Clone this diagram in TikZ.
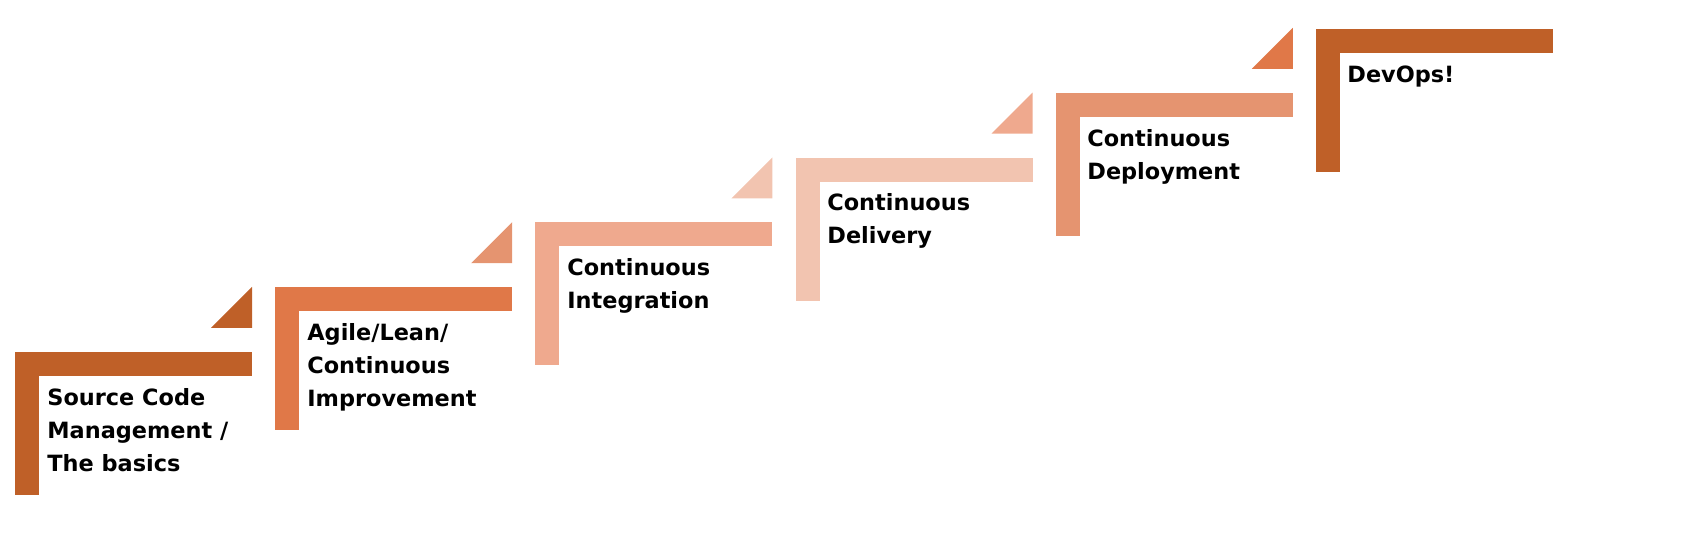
\documentclass[tikz,border=0pt]{standalone}
\usepackage{fontspec}
\setmainfont{DejaVu Sans}
\definecolor{stepA}{HTML}{BF6028}
\definecolor{stepB}{HTML}{E07848}
\definecolor{stepC}{HTML}{EFA98E}
\definecolor{stepD}{HTML}{F2C4B0}
\definecolor{stepE}{HTML}{E59470}
\definecolor{stepF}{HTML}{BF6028}
\tikzset{
  steplabel/.style={anchor=north west, align=left, inner sep=0pt,
    font=\bfseries\fontsize{11.2}{16.5}\selectfont}
}
\begin{document}
\begin{tikzpicture}[x=0.5pt,y=-0.5pt]
\useasboundingbox (0,0) rectangle (1704,550);
% the stairs: bar, riser and corner triangle
\foreach \i/\c/\t in {0/stepA/stepA,1/stepB/stepE,2/stepC/stepD,3/stepD/stepC,4/stepE/stepB} {
  \pgfmathsetmacro{\x}{15+260.2*\i}
  \pgfmathsetmacro{\y}{352-64.8*\i}
  \fill [\c] (\x,\y) rectangle ++(237,24);
  \fill [\c] (\x,\y) rectangle ++(24,143);
  \fill [\t] (\x+237,\y-65) -- (\x+237,\y-24) -- (\x+196,\y-24) -- cycle;
}
\fill [stepF] (1316,29) rectangle ++(237,24);
\fill [stepF] (1316,29) rectangle ++(24,143);
% labels
\node [steplabel] (scm) at (47,388) {Source Code\\Management /\\The basics};
\node [steplabel] (agile) at (307,323) {Agile/Lean/\\Continuous\\Improvement};
\node [steplabel] (ci) at (567,258) {Continuous\\Integration};
\node [steplabel] (cdel) at (827,193) {Continuous\\Delivery};
\node [steplabel] (cdep) at (1087,129) {Continuous\\Deployment};
\node [steplabel] (devops) at (1347,65) {DevOps!};
\end{tikzpicture}
\end{document}
